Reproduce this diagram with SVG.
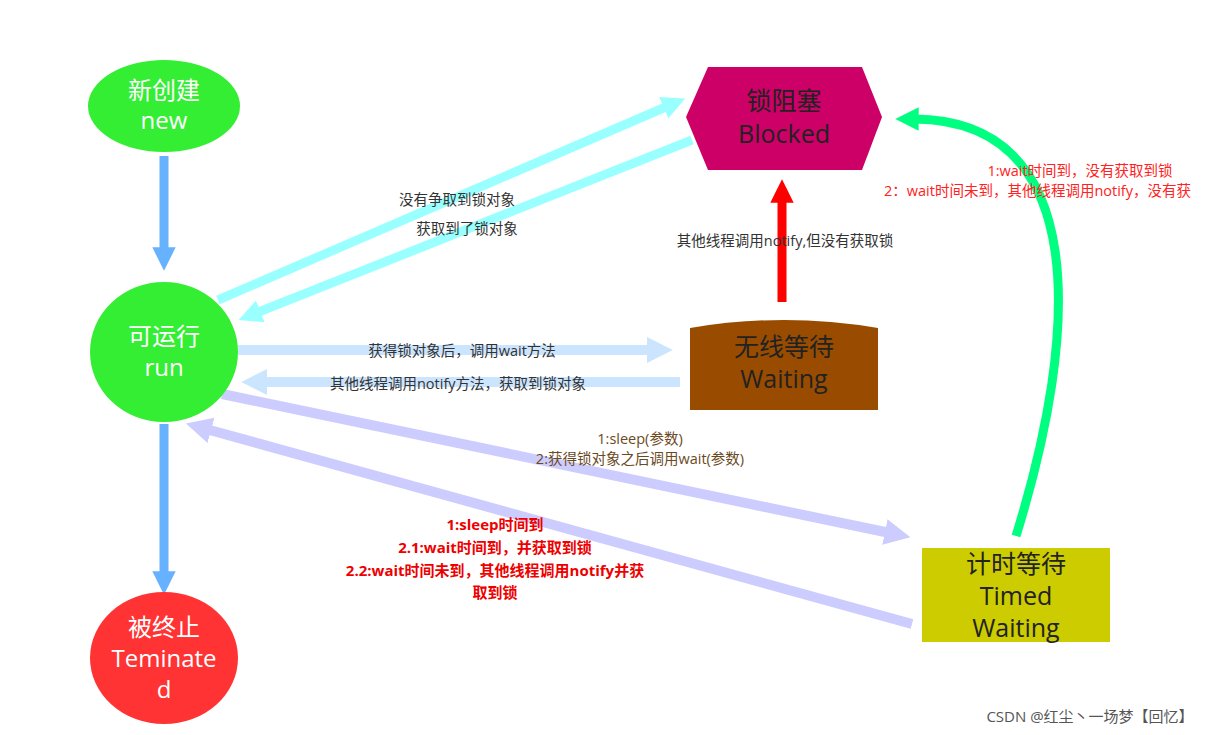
<svg xmlns="http://www.w3.org/2000/svg" width="1232" height="735" viewBox="0 0 1232 735">
<defs>
<style>
.n{font-family:"Open Sans","Noto Sans CJK SC",sans-serif;font-size:24px;text-anchor:middle}
.w{fill:#fff}
.d{fill:#222;font-size:25px}
.l{font-family:"Open Sans","Noto Sans CJK SC",sans-serif;font-size:14.5px;text-anchor:middle;fill:#333}
.r{fill:#f22}
.s{text-anchor:start}
.b{fill:#e00;font-weight:bold;font-size:15px}
.br{fill:#6b4a1e}
</style>
<marker id="ahc" viewBox="0 0 10 10" refX="2" refY="5" markerWidth="2.6" markerHeight="3.6" orient="auto" markerUnits="strokeWidth"><path d="M0,0L10,5L0,10z" fill="#99ffff"/></marker>
<marker id="ahb" viewBox="0 0 10 10" refX="2" refY="5" markerWidth="2.6" markerHeight="3.6" orient="auto" markerUnits="strokeWidth"><path d="M0,0L10,5L0,10z" fill="#66b2ff"/></marker>
<marker id="ahl" viewBox="0 0 10 10" refX="2" refY="5" markerWidth="2.6" markerHeight="3.6" orient="auto" markerUnits="strokeWidth"><path d="M0,0L10,5L0,10z" fill="#cce5ff"/></marker>
<marker id="ahv" viewBox="0 0 10 10" refX="2" refY="5" markerWidth="2.6" markerHeight="3.6" orient="auto" markerUnits="strokeWidth"><path d="M0,0L10,5L0,10z" fill="#ccccff"/></marker>
<marker id="ahr" viewBox="0 0 10 10" refX="2" refY="5" markerWidth="2.6" markerHeight="3.6" orient="auto" markerUnits="strokeWidth"><path d="M0,0L10,5L0,10z" fill="#f00"/></marker>
<marker id="ahg" viewBox="0 0 10 10" refX="2" refY="5" markerWidth="2.6" markerHeight="3.6" orient="auto" markerUnits="strokeWidth"><path d="M0,0L10,5L0,10z" fill="#00ff80"/></marker>
</defs>
<rect width="1232" height="735" fill="#fff"/>
<g id="connectors" fill="none">
<line x1="164" y1="156" x2="164" y2="252" stroke="#66b2ff" stroke-width="9" marker-end="url(#ahb)"/>
<line x1="164" y1="424" x2="164" y2="576" stroke="#66b2ff" stroke-width="9" marker-end="url(#ahb)"/>
<line x1="218" y1="300" x2="668" y2="106" stroke="#99ffff" stroke-width="9" marker-end="url(#ahc)"/>
<line x1="692" y1="140" x2="256" y2="313" stroke="#99ffff" stroke-width="9" marker-end="url(#ahc)"/>
<line x1="238" y1="350" x2="652" y2="350" stroke="#cce5ff" stroke-width="10" marker-end="url(#ahl)"/>
<line x1="680" y1="382" x2="262" y2="382" stroke="#cce5ff" stroke-width="10" marker-end="url(#ahl)"/>
<line x1="782" y1="302" x2="782" y2="198" stroke="#f00" stroke-width="9" marker-end="url(#ahr)"/>
<line x1="222" y1="394" x2="890" y2="533" stroke="#ccccff" stroke-width="10" marker-end="url(#ahv)"/>
<line x1="912" y1="624" x2="206" y2="429" stroke="#ccccff" stroke-width="10" marker-end="url(#ahv)"/>
<path d="M1016,536 C1080,330 1090,120 914,119" stroke="#00ff80" stroke-width="9" marker-end="url(#ahg)"/>
</g>
<g id="new"><ellipse cx="164" cy="106" rx="76" ry="46" fill="#33ee33"/><text class="n w" x="164" y="99">新创建</text><text class="n w" x="164" y="129">new</text></g>
<g id="run"><ellipse cx="164" cy="352" rx="74" ry="70" fill="#33ee33"/><text class="n w" x="164" y="345">可运行</text><text class="n w" x="164" y="376">run</text></g>
<g id="terminate"><ellipse cx="164" cy="658" rx="74" ry="66" fill="#ff3333"/><text class="n w" x="164" y="636">被终止</text><text class="n w" x="164" y="667">Teminate</text><text class="n w" x="164" y="698">d</text></g>
<g id="blocked"><polygon points="708,67 862,67 882,117 862,170 708,170 686,117" fill="#cc0066"/><text class="n d" x="784" y="110">锁阻塞</text><text class="n d" x="784" y="143">Blocked</text></g>
<g id="waiting"><path d="M690,328 Q784,312 878,328 L878,410 L690,410 Z" fill="#994c00"/><text class="n d" x="784" y="356">无线等待</text><text class="n d" x="784" y="388">Waiting</text></g>
<g id="timed"><rect x="922" y="548" width="188" height="94" fill="#cccc00"/><text class="n d" x="1016" y="573">计时等待</text><text class="n d" x="1016" y="605">Timed</text><text class="n d" x="1016" y="637">Waiting</text></g>
<g id="labels">
<text class="l" x="457" y="205">没有争取到锁对象</text>
<text class="l" x="467" y="234">获取到了锁对象</text>
<text class="l" x="785" y="246">其他线程调用notify,但没有获取锁</text>
<text class="l" x="462" y="356">获得锁对象后，调用wait方法</text>
<text class="l" x="458" y="389">其他线程调用notify方法，获取到锁对象</text>
<text class="l br" x="640" y="444">1:sleep(参数)</text>
<text class="l br" x="640" y="464">2:获得锁对象之后调用wait(参数)</text>
<text class="l r" x="1080" y="176">1:wait时间到，没有获取到锁</text>
<text class="l r s" x="884" y="196">2：wait时间未到，其他线程调用notify，没有获</text>
<text class="l b" x="495" y="530">1:sleep时间到</text>
<text class="l b" x="495" y="553">2.1:wait时间到，并获取到锁</text>
<text class="l b" x="495" y="576">2.2:wait时间未到，其他线程调用notify并获</text>
<text class="l b" x="495" y="598">取到锁</text>
<text class="l" x="1090" y="722" style="font-size:15px;fill:#555">CSDN @红尘丶一场梦【回忆】</text>
</g>
</svg>
